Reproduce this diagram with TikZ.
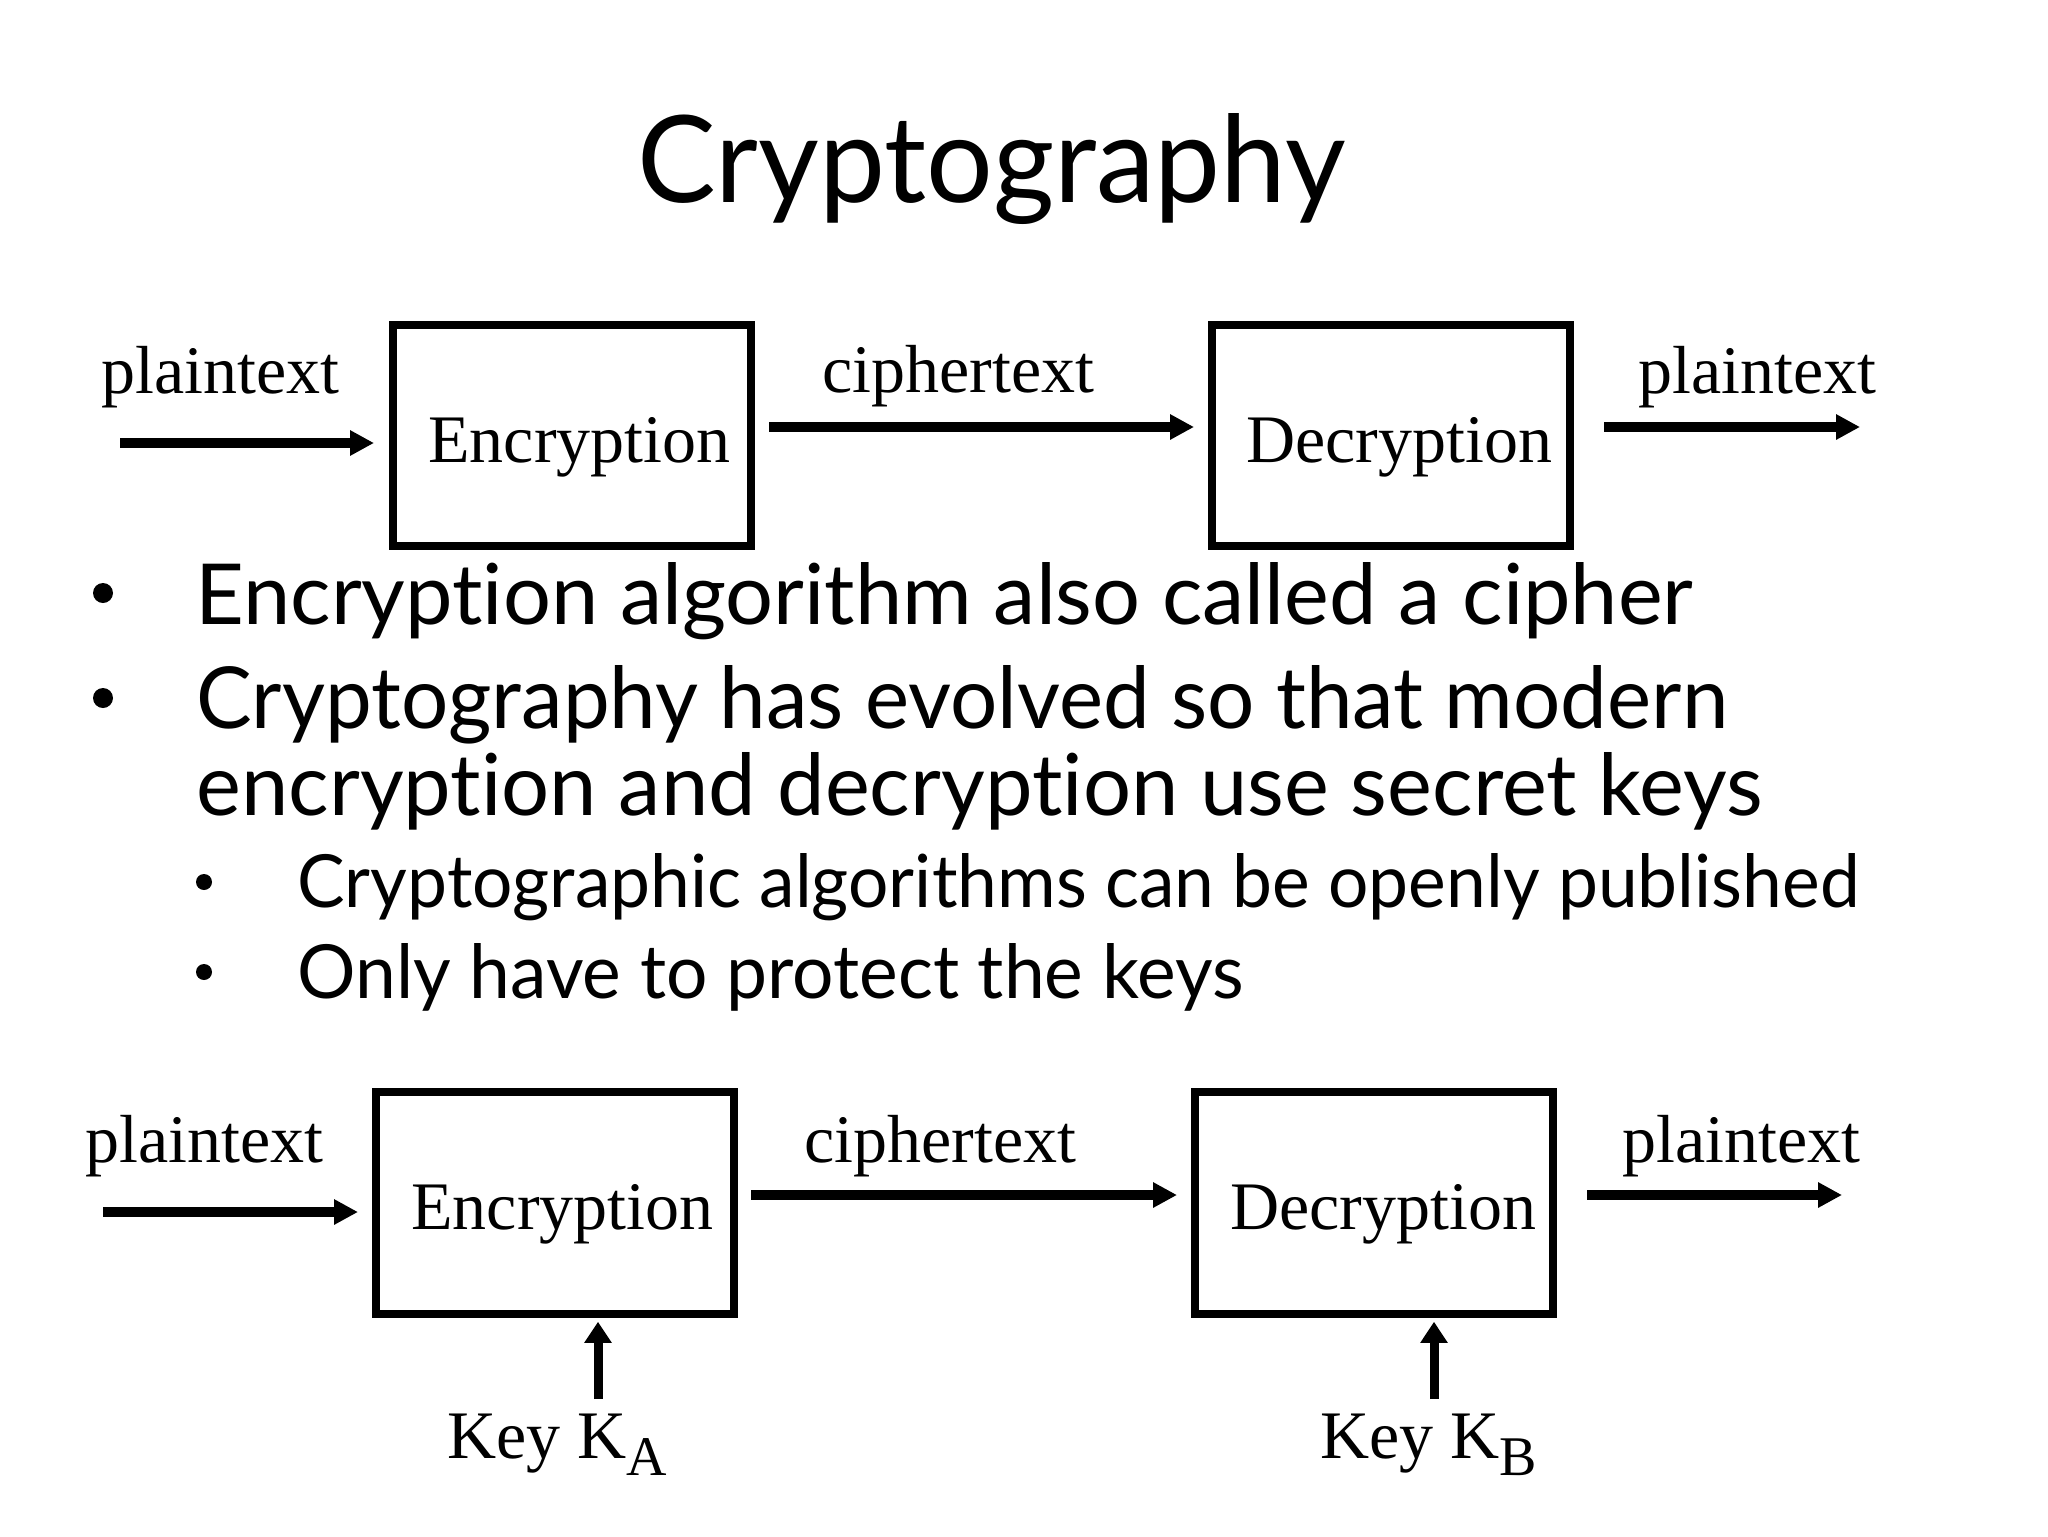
\documentclass[tikz,border=0pt]{standalone}
\usepackage{fontspec}
\usepackage{graphicx}
\setmainfont{Liberation Serif}
\newfontfamily\comicf[Ligatures={NoCommon,NoRare}]{Lato}
\usetikzlibrary{arrows.meta}
\newlength{\pxu}
\setlength{\pxu}{0.5pt}
\newcommand{\fitbox}[3]{\resizebox{#1\pxu}{#2\pxu}{\comicf\fontsize{30}{36}\selectfont #3}}
\begin{document}
\begin{tikzpicture}[x=0.5pt,y=-0.5pt,
  blockbox/.style={draw, line width=4pt, minimum width=179pt, minimum height=110.75pt, inner sep=0pt},
  lbl/.style={anchor=base west, inner sep=0pt, font=\fontsize{34}{40}\selectfont},
  slide/.style={anchor=base west, inner sep=0pt},
  flow/.style={line width=5pt, -{Triangle[length=12pt, width=12pt]}},
  keyflow/.style={line width=4.5pt, -{Triangle[length=10.5pt, width=13pt]}}]
\useasboundingbox (0,0) rectangle (2048,1536);

% title
\node[slide] (title) at (637,202) {\fitbox{708}{89}{Cryptography}};

% top diagram
\node[blockbox] (enc1) at (571.5,435.5) {};
\node[blockbox] (dec1) at (1391,435.5) {};
\node[lbl] (encl1) at (428,462) {Encryption};
\node[lbl] (decl1) at (1246,462) {Decryption};
\node[lbl] (pt1) at (101,393) {plaintext};
\node[lbl] (ct1) at (822,392) {ciphertext};
\node[lbl] (pt1r) at (1638,393) {plaintext};
\coordinate (a1s) at (120,443); \coordinate (a1e) at (374,443);
\coordinate (a2s) at (769,427); \coordinate (a2e) at (1194,427);
\coordinate (a3s) at (1604,427); \coordinate (a3e) at (1860,427);
\draw[flow] (a1s) -- (a1e);
\draw[flow] (a2s) -- (a2e);
\draw[flow] (a3s) -- (a3e);

% bullets
\fill (103,593) circle[radius=5pt];
\fill (103,698) circle[radius=5pt];
\fill (204,882) circle[radius=4pt];
\fill (204,972) circle[radius=4pt];
\node[slide] (b1) at (195,624) {\fitbox{1498}{62}{Encryption algorithm also called a cipher}};
\node[slide] (b2) at (196,728) {\fitbox{1532}{63}{Cryptography has evolved so that modern}};
\node[slide] (b3) at (196,815) {\fitbox{1566}{63}{encryption and decryption use secret keys}};
\node[slide] (s1) at (297,907) {\fitbox{1562}{54}{Cryptographic algorithms can be openly published}};
\node[slide] (s2) at (297,998) {\fitbox{946}{55}{Only have to protect the keys}};

% bottom diagram
\node[blockbox] (enc2) at (555,1203) {};
\node[blockbox] (dec2) at (1374,1203) {};
\node[lbl] (encl2) at (411,1229) {Encryption};
\node[lbl] (decl2) at (1230,1229) {Decryption};
\node[lbl] (pt2) at (85,1162) {plaintext};
\node[lbl] (ct2) at (804,1162) {ciphertext};
\node[lbl] (pt2r) at (1622,1162) {plaintext};
\coordinate (b1s) at (103,1212); \coordinate (b1e) at (358,1212);
\coordinate (b2s) at (751,1195); \coordinate (b2e) at (1177,1195);
\coordinate (b3s) at (1587,1195); \coordinate (b3e) at (1842,1195);
\draw[flow] (b1s) -- (b1e);
\draw[flow] (b2s) -- (b2e);
\draw[flow] (b3s) -- (b3e);

\coordinate (kA) at (598,1399);
\coordinate (kB) at (1434,1399);
\draw[keyflow, shorten >=2pt] (kA) -- (kA |- enc2.south);
\draw[keyflow, shorten >=2pt] (kB) -- (kB |- dec2.south);
\node[lbl] (keyA) at (447,1458) {Key K\raisebox{-8.5pt}{\fontsize{28}{32}\selectfont A}};
\node[lbl] (keyB) at (1320,1458) {Key K\raisebox{-8.5pt}{\fontsize{28}{32}\selectfont B}};
\end{tikzpicture}
\end{document}
